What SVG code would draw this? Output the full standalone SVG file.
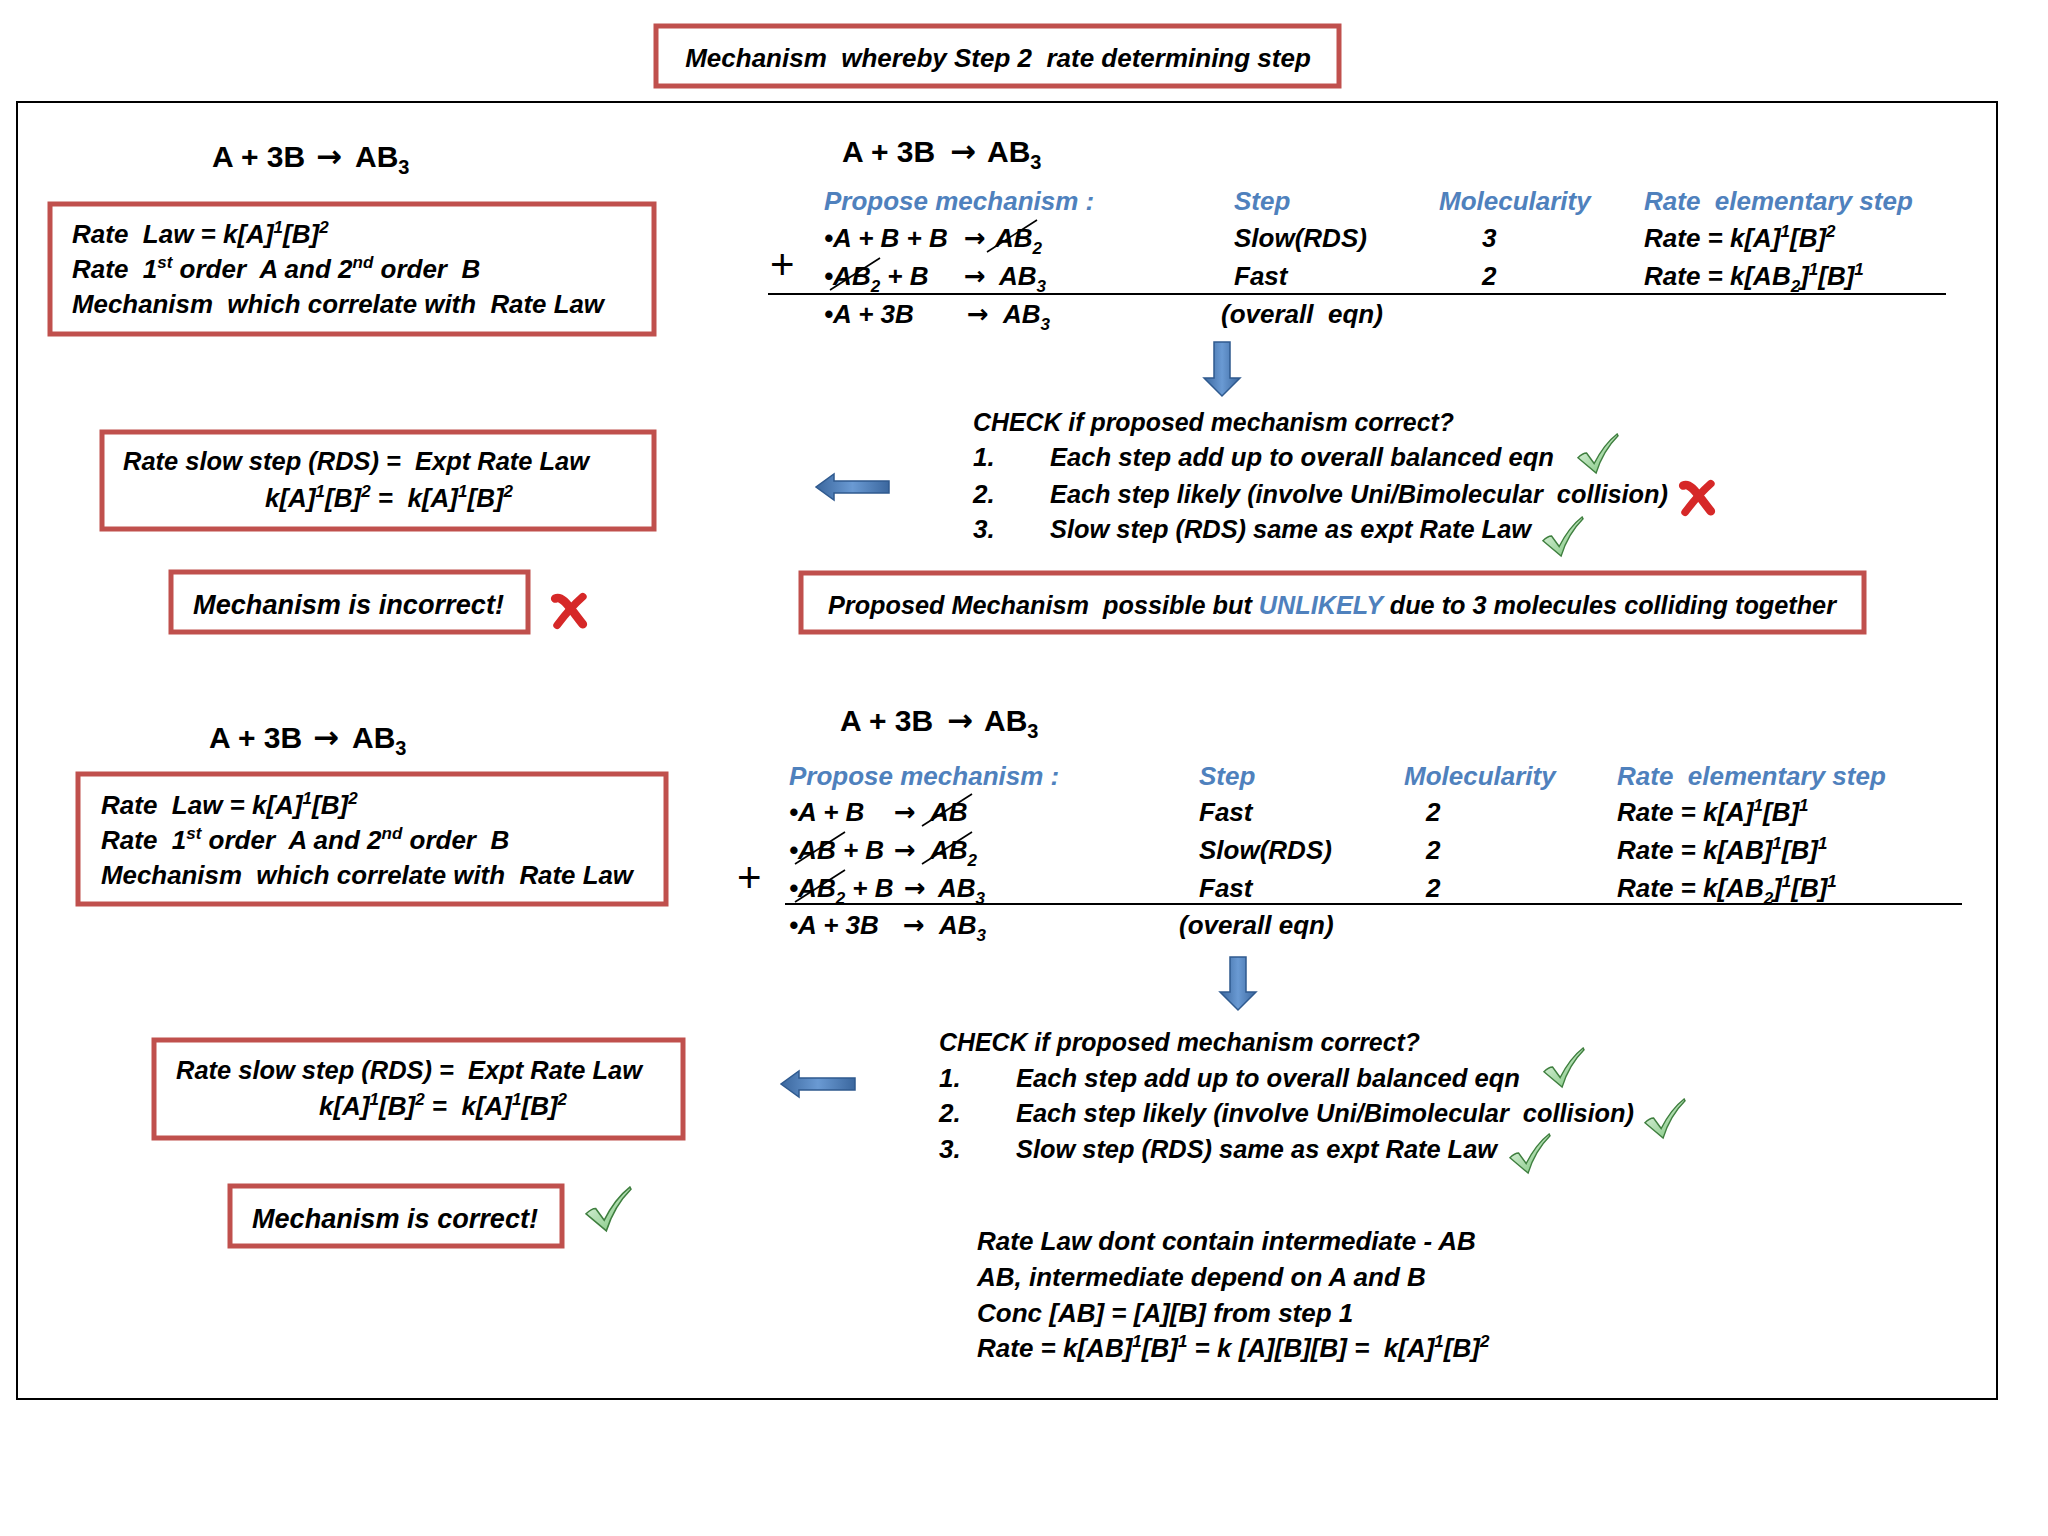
<svg xmlns="http://www.w3.org/2000/svg" width="2048" height="1536" viewBox="0 0 2048 1536">
<defs>
<style>
text{white-space:pre;font-family:"Liberation Sans",Arial,sans-serif;font-weight:bold;font-style:italic;font-size:26px;fill:#000}
.eq{font-style:normal;font-size:30px}
.eqa{font-family:"DejaVu Sans",sans-serif;font-style:normal;font-weight:bold;font-size:31px}
.blue{fill:#4f81bd}
.ar{font-family:"DejaVu Sans",sans-serif;font-style:normal;font-weight:bold}
.plus{font-style:normal;font-weight:normal;font-size:42px}
.big{font-size:28px}
.box{fill:#fff;stroke:#c0504d;stroke-width:5}
.strike{stroke:#000;stroke-width:1.6;fill:none}
.line{stroke:#000;stroke-width:2}
.barrow{fill:url(#bg);stroke:#2f5a8f;stroke-width:1.5}
</style>
<linearGradient id="bg" x1="0" y1="0" x2="1" y2="0"><stop offset="0" stop-color="#3b679e"/><stop offset="0.5" stop-color="#6a9ad3"/><stop offset="1" stop-color="#3b679e"/></linearGradient>
<linearGradient id="gg" x1="0" y1="0" x2="1" y2="1"><stop offset="0" stop-color="#f0fbf0"/><stop offset="1" stop-color="#6fbf6f"/></linearGradient>
<symbol id="chk" viewBox="0 0 44 44"><path d="M1,26 C5,22 8,21 10,21 L18,32 C25,18 33,8 42,1 L43,3 C33,13 25,26 20,42 Z" fill="url(#gg)" stroke="#3f7f3f" stroke-width="1.5"/></symbol>
<symbol id="xx" viewBox="0 0 42 42"><path d="M6,9 C14,5 22,20 35,36" stroke="#d62828" stroke-width="9" stroke-linecap="round" fill="none"/><path d="M35,7 C27,14 17,25 8,37" stroke="#d62828" stroke-width="8" stroke-linecap="round" fill="none"/></symbol>
</defs>
<rect width="2048" height="1536" fill="#fff"/>

<g id="frame"><rect x="17" y="102" width="1980" height="1297" fill="none" stroke="#000" stroke-width="2"/></g>

<g id="title"><rect class="box" x="656" y="26" width="683" height="60"/><text x="998" y="67" text-anchor="middle">Mechanism  whereby Step 2  rate determining step</text></g>

<g id="eq-top-left"><text class="eq" x="212" y="167">A + 3B</text><text class="eqa" x="316" y="167">→</text><text class="eq" x="355" y="167">AB<tspan dy="7" font-size="20">3</tspan></text></g>

<g id="box-ratelaw-1"><rect class="box" x="50" y="204" width="604" height="130"/>
<text x="72" y="243">Rate  Law = k[A]<tspan dy="-10" font-size="17">1</tspan><tspan dy="10">[B]</tspan><tspan dy="-10" font-size="17">2</tspan></text>
<text x="72" y="278">Rate  1<tspan dy="-10" font-size="17">st</tspan><tspan dy="10"> order  A and 2</tspan><tspan dy="-10" font-size="17">nd</tspan><tspan dy="10"> order  B</tspan></text>
<text x="72" y="313" textLength="532" lengthAdjust="spacingAndGlyphs">Mechanism  which correlate with  Rate Law</text></g>

<g id="table-top">
<text class="eq" x="842" y="162">A + 3B</text><text class="eqa" x="950" y="162">→</text><text class="eq" x="987" y="162">AB<tspan dy="7" font-size="20">3</tspan></text>
<text class="blue" x="824" y="210">Propose mechanism :</text>
<text class="blue" x="1234" y="210">Step</text>
<text class="blue" x="1439" y="210">Molecularity</text>
<text class="blue" x="1644" y="210">Rate  elementary step</text>
<text x="824" y="247">•A + B + B</text><text class="ar" x="964" y="247">→</text><text x="995" y="247">AB<tspan dy="7" font-size="17">2</tspan></text>
<text x="1234" y="247">Slow(RDS)</text><text x="1482" y="247">3</text>
<text x="1644" y="247">Rate = k[A]<tspan dy="-10" font-size="17">1</tspan><tspan dy="10">[B]</tspan><tspan dy="-10" font-size="17">2</tspan></text>
<text x="824" y="285">•AB<tspan dy="7" font-size="17">2</tspan><tspan dy="-7"> + B</tspan></text><text class="ar" x="964" y="285">→</text><text x="999" y="285">AB<tspan dy="7" font-size="17">3</tspan></text>
<text x="1234" y="285">Fast</text><text x="1482" y="285">2</text>
<text x="1644" y="285">Rate = k[AB<tspan dy="7" font-size="17">2</tspan><tspan dy="-7">]</tspan><tspan dy="-10" font-size="17">1</tspan><tspan dy="10">[B]</tspan><tspan dy="-10" font-size="17">1</tspan></text>
<line class="line" x1="768" y1="294" x2="1946" y2="294"/>
<text class="plus" x="770" y="279">+</text>
<text x="824" y="323">•A + 3B</text><text class="ar" x="967" y="323">→</text><text x="1003" y="323">AB<tspan dy="7" font-size="17">3</tspan></text>
<text x="1221" y="323">(overall  eqn)</text>
<line class="strike" x1="987" y1="252" x2="1037" y2="220"/>
<line class="strike" x1="830" y1="290" x2="880" y2="258"/>
</g>

<g id="check-top">
<text x="973" y="431" textLength="481" lengthAdjust="spacingAndGlyphs">CHECK if proposed mechanism correct?</text>
<text x="973" y="466">1.</text><text x="1050" y="466" textLength="504" lengthAdjust="spacingAndGlyphs">Each step add up to overall balanced eqn</text>
<text x="973" y="503">2.</text><text x="1050" y="503" textLength="618" lengthAdjust="spacingAndGlyphs">Each step likely (involve Uni/Bimolecular  collision)</text>
<text x="973" y="538">3.</text><text x="1050" y="538" textLength="481" lengthAdjust="spacingAndGlyphs">Slow step (RDS) same as expt Rate Law</text>
<use href="#chk" x="1576" y="433" width="44" height="42"/>
<use href="#xx" x="1677" y="477" width="41" height="40"/>
<use href="#chk" x="1541" y="516" width="44" height="42"/>
</g>

<g id="box-rds-1"><rect class="box" x="102" y="432" width="552" height="97"/>
<text x="123" y="470" textLength="466" lengthAdjust="spacingAndGlyphs">Rate slow step (RDS) =  Expt Rate Law</text>
<text x="265" y="507">k[A]<tspan dy="-10" font-size="17">1</tspan><tspan dy="10">[B]</tspan><tspan dy="-10" font-size="17">2</tspan><tspan dy="10"> =  k[A]</tspan><tspan dy="-10" font-size="17">1</tspan><tspan dy="10">[B]</tspan><tspan dy="-10" font-size="17">2</tspan></text></g>

<g id="box-incorrect"><rect class="box" x="171" y="572" width="357" height="60"/><text class="big" x="193" y="614" textLength="311" lengthAdjust="spacingAndGlyphs">Mechanism is incorrect!</text><use href="#xx" x="549" y="590" width="41" height="40"/></g>

<g id="box-unlikely"><rect class="box" x="801" y="573" width="1063" height="59"/><text x="828" y="614" textLength="1008" lengthAdjust="spacingAndGlyphs">Proposed Mechanism  possible but <tspan class="blue">UNLIKELY</tspan> due to 3 molecules colliding together</text></g>

<g id="eq-bottom-left"><text class="eq" x="209" y="748">A + 3B</text><text class="eqa" x="313" y="748">→</text><text class="eq" x="352" y="748">AB<tspan dy="7" font-size="20">3</tspan></text></g>

<g id="box-ratelaw-2"><rect class="box" x="78" y="774" width="588" height="130"/>
<text x="101" y="814">Rate  Law = k[A]<tspan dy="-10" font-size="17">1</tspan><tspan dy="10">[B]</tspan><tspan dy="-10" font-size="17">2</tspan></text>
<text x="101" y="849">Rate  1<tspan dy="-10" font-size="17">st</tspan><tspan dy="10"> order  A and 2</tspan><tspan dy="-10" font-size="17">nd</tspan><tspan dy="10"> order  B</tspan></text>
<text x="101" y="884" textLength="532" lengthAdjust="spacingAndGlyphs">Mechanism  which correlate with  Rate Law</text></g>

<g id="table-bottom">
<text class="eq" x="840" y="731">A + 3B</text><text class="eqa" x="947" y="731">→</text><text class="eq" x="984" y="731">AB<tspan dy="7" font-size="20">3</tspan></text>
<text class="blue" x="789" y="785">Propose mechanism :</text>
<text class="blue" x="1199" y="785">Step</text>
<text class="blue" x="1404" y="785">Molecularity</text>
<text class="blue" x="1617" y="785">Rate  elementary step</text>
<text x="789" y="821">•A + B</text><text class="ar" x="894" y="821">→</text><text x="930" y="821">AB</text>
<text x="1199" y="821">Fast</text><text x="1426" y="821">2</text>
<text x="1617" y="821">Rate = k[A]<tspan dy="-10" font-size="17">1</tspan><tspan dy="10">[B]</tspan><tspan dy="-10" font-size="17">1</tspan></text>
<text x="789" y="859">•AB + B</text><text class="ar" x="894" y="859">→</text><text x="930" y="859">AB<tspan dy="7" font-size="17">2</tspan></text>
<text x="1199" y="859">Slow(RDS)</text><text x="1426" y="859">2</text>
<text x="1617" y="859">Rate = k[AB]<tspan dy="-10" font-size="17">1</tspan><tspan dy="10">[B]</tspan><tspan dy="-10" font-size="17">1</tspan></text>
<text x="789" y="897">•AB<tspan dy="7" font-size="17">2</tspan><tspan dy="-7"> + B</tspan></text><text class="ar" x="904" y="897">→</text><text x="938" y="897">AB<tspan dy="7" font-size="17">3</tspan></text>
<text x="1199" y="897">Fast</text><text x="1426" y="897">2</text>
<text x="1617" y="897">Rate = k[AB<tspan dy="7" font-size="17">2</tspan><tspan dy="-7">]</tspan><tspan dy="-10" font-size="17">1</tspan><tspan dy="10">[B]</tspan><tspan dy="-10" font-size="17">1</tspan></text>
<line class="line" x1="785" y1="904" x2="1962" y2="904"/>
<text class="plus" x="737" y="892">+</text>
<text x="789" y="934">•A + 3B</text><text class="ar" x="903" y="934">→</text><text x="939" y="934">AB<tspan dy="7" font-size="17">3</tspan></text>
<text x="1179" y="934">(overall eqn)</text>
<line class="strike" x1="922" y1="826" x2="972" y2="794"/>
<line class="strike" x1="795" y1="864" x2="845" y2="832"/>
<line class="strike" x1="922" y1="864" x2="972" y2="832"/>
<line class="strike" x1="795" y1="902" x2="845" y2="870"/>
</g>

<g id="check-bottom">
<text x="939" y="1051" textLength="481" lengthAdjust="spacingAndGlyphs">CHECK if proposed mechanism correct?</text>
<text x="939" y="1087">1.</text><text x="1016" y="1087" textLength="504" lengthAdjust="spacingAndGlyphs">Each step add up to overall balanced eqn</text>
<text x="939" y="1122">2.</text><text x="1016" y="1122" textLength="618" lengthAdjust="spacingAndGlyphs">Each step likely (involve Uni/Bimolecular  collision)</text>
<text x="939" y="1158">3.</text><text x="1016" y="1158" textLength="481" lengthAdjust="spacingAndGlyphs">Slow step (RDS) same as expt Rate Law</text>
<use href="#chk" x="1542" y="1047" width="44" height="42"/>
<use href="#chk" x="1643" y="1098" width="44" height="42"/>
<use href="#chk" x="1508" y="1133" width="44" height="42"/>
</g>

<g id="box-rds-2"><rect class="box" x="154" y="1040" width="529" height="98"/>
<text x="176" y="1079" textLength="466" lengthAdjust="spacingAndGlyphs">Rate slow step (RDS) =  Expt Rate Law</text>
<text x="319" y="1115">k[A]<tspan dy="-10" font-size="17">1</tspan><tspan dy="10">[B]</tspan><tspan dy="-10" font-size="17">2</tspan><tspan dy="10"> =  k[A]</tspan><tspan dy="-10" font-size="17">1</tspan><tspan dy="10">[B]</tspan><tspan dy="-10" font-size="17">2</tspan></text></g>

<g id="box-correct"><rect class="box" x="230" y="1186" width="332" height="60"/><text class="big" x="252" y="1228" textLength="286" lengthAdjust="spacingAndGlyphs">Mechanism is correct!</text><use href="#chk" x="585" y="1186" width="47" height="47"/></g>

<g id="notes">
<text x="977" y="1250">Rate Law dont contain intermediate - AB</text>
<text x="977" y="1286">AB, intermediate depend on A and B</text>
<text x="977" y="1322">Conc [AB] = [A][B] from step 1</text>
<text x="977" y="1357">Rate = k[AB]<tspan dy="-10" font-size="17">1</tspan><tspan dy="10">[B]</tspan><tspan dy="-10" font-size="17">1</tspan><tspan dy="10"> = k [A][B][B] =  k[A]</tspan><tspan dy="-10" font-size="17">1</tspan><tspan dy="10">[B]</tspan><tspan dy="-10" font-size="17">2</tspan></text>
</g>

<g id="connectors">
<polygon class="barrow" points="1214,342 1230,342 1230,378 1240,378 1222,396 1204,378 1214,378"/>
<polygon class="barrow" points="1230,957 1246,957 1246,992 1256,992 1238,1010 1220,992 1230,992"/>
<polygon class="barrow" points="889,481 889,493 834,493 834,500 816,487 834,474 834,481"/>
<polygon class="barrow" points="855,1078 855,1090 799,1090 799,1097 781,1084 799,1071 799,1078"/>
</g>
</svg>
